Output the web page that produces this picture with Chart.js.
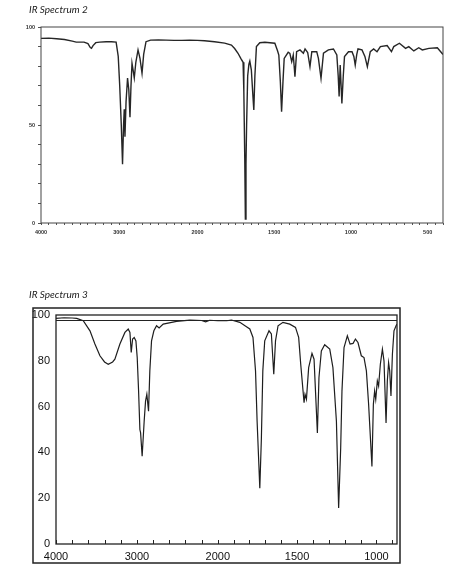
<!DOCTYPE html>
<html><head><meta charset="utf-8">
<script src="https://cdn.jsdelivr.net/npm/chart.js@4.4.1/dist/chart.umd.min.js"></script>
<style>
html,body{margin:0;padding:0;background:#fff;width:474px;height:566px;overflow:hidden;position:relative}
.title{position:absolute;left:29px;font:italic 10px Lato,'Liberation Sans',sans-serif;color:#222;line-height:10px;white-space:nowrap;z-index:2}
canvas{position:absolute;left:0}
</style></head><body>
<div class="title" style="top:4px">IR Spectrum 2</div>
<canvas id="c2" width="474" height="245" style="top:0"></canvas>
<div class="title" style="top:289px">IR Spectrum 3</div>
<canvas id="c3" width="474" height="286" style="top:280px"></canvas>
<script>
// ---------- data ----------
const spectrum2Wavenumbers = [4000,3900,3800,3700,3600,3550,3450,3400,3370,3355,3335,3300,3250,3167,3100,3040,3013,2994,2974,2958,2945,2936,2927,2913,2894,2878,2863,2850,2837,2823,2808,2788,2760,2735,2709,2688,2658,2600,2500,2400,2300,2200,2100,2000,1954,1889,1823,1779,1758,1736,1718,1703,1698,1692,1688,1684,1680,1673,1665,1659,1649,1639,1633,1626,1616,1594,1561,1496,1479,1470,1460,1452,1443,1435,1409,1398,1386,1376,1370,1365,1354,1332,1310,1299,1282,1267,1255,1223,1212,1195,1179,1147,1114,1092,1083,1077,1070,1059,1050,1042,1016,993,981,972,962,954,928,909,893,874,852,830,808,764,736,721,684,644,623,590,558,535,492,437,415,400];
const spectrum2Transmittance = [94.2,94.3,94.0,93.6,92.8,92.3,92.3,91.5,89.5,89.1,90.5,92,92.3,92.5,92.5,92.3,85,70,50,30,50,58,44,62,74,68,54,70,81.5,78,74,82,88.3,84,76.4,86,92.5,93.3,93.4,93.3,93.2,93.2,93.3,93.2,93,92.5,91.8,90.8,89,86.6,84,82,67,33,2,30,50,75,81,82.6,78,65,57.7,75,90,92,92.2,91.7,88,85.7,72,56.8,72,84,87.1,86.5,82.3,85.7,80,74.7,87.4,88.3,86.6,88.8,87,79.8,87.4,87.4,84,73.8,86.6,88.3,88.8,85.7,75,64.5,80.6,61,75,84.9,87.4,87.4,85,80.6,86,88.8,88.3,85,79.8,87.4,88.8,87.4,90,90.5,87.4,90,91.7,89.1,90,87.8,89.4,88.3,89.1,89.4,87.4,86];

const spectrum3Wavenumbers = [4000,3900,3800,3744,3663,3580,3519,3457,3400,3354,3300,3272,3210,3148,3107,3086,3070,3053,3033,3012,2996,2979,2963,2954,2935,2910,2893,2877,2856,2840,2819,2790,2757,2725,2675,2510,2346,2200,2150,2100,2000,1945,1914,1861,1819,1798,1778,1762,1752,1735,1725,1716,1704,1677,1662,1647,1636,1620,1589,1546,1510,1490,1477,1456,1450,1441,1427,1406,1393,1372,1362,1347,1326,1294,1274,1252,1238,1225,1217,1204,1183,1166,1147,1132,1116,1095,1078,1063,1049,1028,1019,1011,1004,994,986,975,962,952,939,931,923,916,908,899,889,876,870];
const spectrum3Transmittance = [98.5,98.8,98.7,98.5,97.5,93.1,87.3,82.2,79.5,78.5,79.5,80.7,87.3,92.4,93.9,92.4,83.6,89.5,90.2,88.7,81.4,66.8,50,48.5,38.3,53.6,62.4,65.4,58,75.6,88.7,93.1,95.3,94.3,96,97.2,97.8,97.6,97.0,97.7,97.5,97.5,97.8,96.8,94.9,93.9,90.2,75.6,53.6,24.4,46.3,75.6,88.7,93.1,91.7,74.1,88.7,95.3,96.8,96,94.6,90.2,78.5,61.7,65.4,63.2,77,83.2,80.7,48.5,72.7,84.3,87,85.1,77,53.6,15.7,42,66.8,85.8,90.9,87.3,87.6,89.5,88,82.2,81.4,75.6,61,33.9,61,66.8,63.2,71.2,69,78.5,85.1,80,52.9,71.2,79.2,75.6,64.6,82.9,93.1,95.3,96];

const xTickLabels2 = [4000,3000,2000,1500,1000,500];
const xTickLabels3 = [4000,3000,2000,1500,1000];
const yTickLabels2 = [0,50,100];
const yTickLabels3 = [0,20,40,60,80,100];

// tick mark positions (unlabelled minor ticks included)
const xTicks2 = [];
for (let v = 4000; v > 2000; v -= 100) xTicks2.push(v);
for (let v = 2000; v >= 400; v -= 50) xTicks2.push(v);
const xTicks3 = [];
for (let v = 4000; v > 2000; v -= 200) xTicks3.push(v);
for (let v = 2000; v >= 900; v -= 100) xTicks3.push(v);

// ---------- scale with the usual IR break at 2000 cm-1 ----------
class BrokenAxis extends Chart.LinearScale {
  _u(v) {
    const o = this.options, hi = o.max, b = o.breakAt, r = o.ratio;
    return v >= b ? (hi - v) * r : (hi - b) * r + (b - v);
  }
  buildTicks() {
    this.min = this.options.min; this.max = this.options.max;
    return this.options.tickValues.map(v => ({ value: v }));
  }
  getPixelForValue(v) {
    const total = this._u(this.options.min);
    return this.left + this.width * this._u(v) / total;
  }
  getValueForPixel(p) {
    const o = this.options, total = this._u(o.min);
    const u = (p - this.left) / this.width * total;
    const ub = (o.max - o.breakAt) * o.ratio;
    return u <= ub ? o.max - u / o.ratio : o.breakAt - (u - ub);
  }
}
BrokenAxis.id = 'broken';
BrokenAxis.defaults = Chart.LinearScale.defaults;
Chart.register(BrokenAxis);

const framePlugin = {
  id: 'frames',
  afterDraw(chart, args, o) {
    const { ctx, chartArea: a } = chart;
    ctx.save();
    ctx.strokeStyle = o.color || '#333';
    ctx.lineWidth = o.width || 1;
    ctx.strokeRect(a.left, a.top, a.right - a.left, a.bottom - a.top);
    if (o.refLine != null) {
      const y = Math.round(chart.scales.y.getPixelForValue(o.refLine)) + 0.5;
      ctx.lineWidth = 1;
      ctx.beginPath(); ctx.moveTo(a.left, y); ctx.lineTo(a.right, y); ctx.stroke();
    }
    if (o.innerTicks) {
      const s = chart.scales.x;
      ctx.lineWidth = 1;
      ctx.beginPath();
      s.ticks.forEach(t => {
        const x = Math.round(s.getPixelForValue(t.value)) + 0.5;
        ctx.moveTo(x, a.bottom); ctx.lineTo(x, a.bottom - o.innerTicks);
      });
      ctx.stroke();
    }
    if (o.outer) {
      const m = o.outer;
      ctx.lineWidth = o.outerWidth || 1.5;
      ctx.strokeRect(a.left - m.left, a.top - m.top, (a.right - a.left) + m.left + m.right, (a.bottom - a.top) + m.top + m.bottom);
    }
    ctx.restore();
  }
};

function pts(xs, ys) { return xs.map((x, i) => ({ x, y: ys[i] })); }

// ---------- IR Spectrum 2 ----------
new Chart(document.getElementById('c2'), {
  type: 'line',
  data: { datasets: [{ data: pts(spectrum2Wavenumbers, spectrum2Transmittance), borderColor: '#262626', borderWidth: 1.4, pointRadius: 0, tension: 0, fill: false }] },
  options: {
    responsive: false, animation: false, events: [],
    layout: { padding: { left: 0, top: 27, right: 31, bottom: 0 } },
    plugins: { legend: { display: false }, tooltip: { enabled: false }, frames: { color: '#444', width: 1 } },
    scales: {
      x: {
        type: 'broken', position: 'bottom', min: 400, max: 4000, breakAt: 2000, ratio: 0.51, tickValues: xTicks2,
        border: { display: false },
        grid: { drawOnChartArea: false, drawTicks: true, tickLength: 2, color: '#555' },
        ticks: { autoSkip: false, maxRotation: 0, minRotation: 0, padding: 4, color: '#333', font: { size: 5.5, weight: 'bold' },
          callback: v => xTickLabels2.includes(v) ? String(v) : '' },
        afterFit: s => { s.height = 22; }
      },
      y: {
        min: 0, max: 100,
        border: { display: false },
        grid: { drawOnChartArea: false, drawTicks: true, tickLength: 3, color: '#555' },
        ticks: { stepSize: 10, padding: 3, color: '#333', font: { size: 5.5, weight: 'bold' },
          callback: v => yTickLabels2.includes(v) ? String(v) : '' },
        afterFit: s => { s.width = 41; }
      }
    }
  },
  plugins: [framePlugin]
});

// ---------- IR Spectrum 3 ----------
new Chart(document.getElementById('c3'), {
  type: 'line',
  data: { datasets: [{ data: pts(spectrum3Wavenumbers, spectrum3Transmittance), borderColor: '#1e1e1e', borderWidth: 1.2, pointRadius: 0, tension: 0, fill: false }] },
  options: {
    responsive: false, animation: false, events: [],
    layout: { padding: { left: 0, top: 35, right: 77, bottom: 0 } },
    plugins: { legend: { display: false }, tooltip: { enabled: false },
      frames: { color: '#222', width: 1.3, refLine: 98, innerTicks: 4, outer: { left: 23, top: 7, right: 3, bottom: 19 }, outerWidth: 1.5 } },
    scales: {
      x: {
        type: 'broken', position: 'bottom', min: 870, max: 4000, breakAt: 2000, ratio: 0.51, tickValues: xTicks3,
        border: { display: false },
        grid: { drawOnChartArea: false, drawTicks: false },
        ticks: { autoSkip: false, maxRotation: 0, minRotation: 0, padding: 6, color: '#111', font: { family: "'Liberation Sans', Arial, sans-serif", size: 11 },
          callback: v => xTickLabels3.includes(v) ? String(v) : '' },
        afterFit: s => { s.height = 22; }
      },
      y: {
        min: 0, max: 100,
        border: { display: false },
        grid: { drawOnChartArea: false, drawTicks: false },
        ticks: { stepSize: 20, padding: 6, color: '#111', font: { family: "'Liberation Sans', Arial, sans-serif", size: 11 },
          callback: v => yTickLabels3.includes(v) ? String(v) : '' },
        afterFit: s => { s.width = 56; }
      }
    }
  },
  plugins: [framePlugin]
});
</script>
</body></html>
